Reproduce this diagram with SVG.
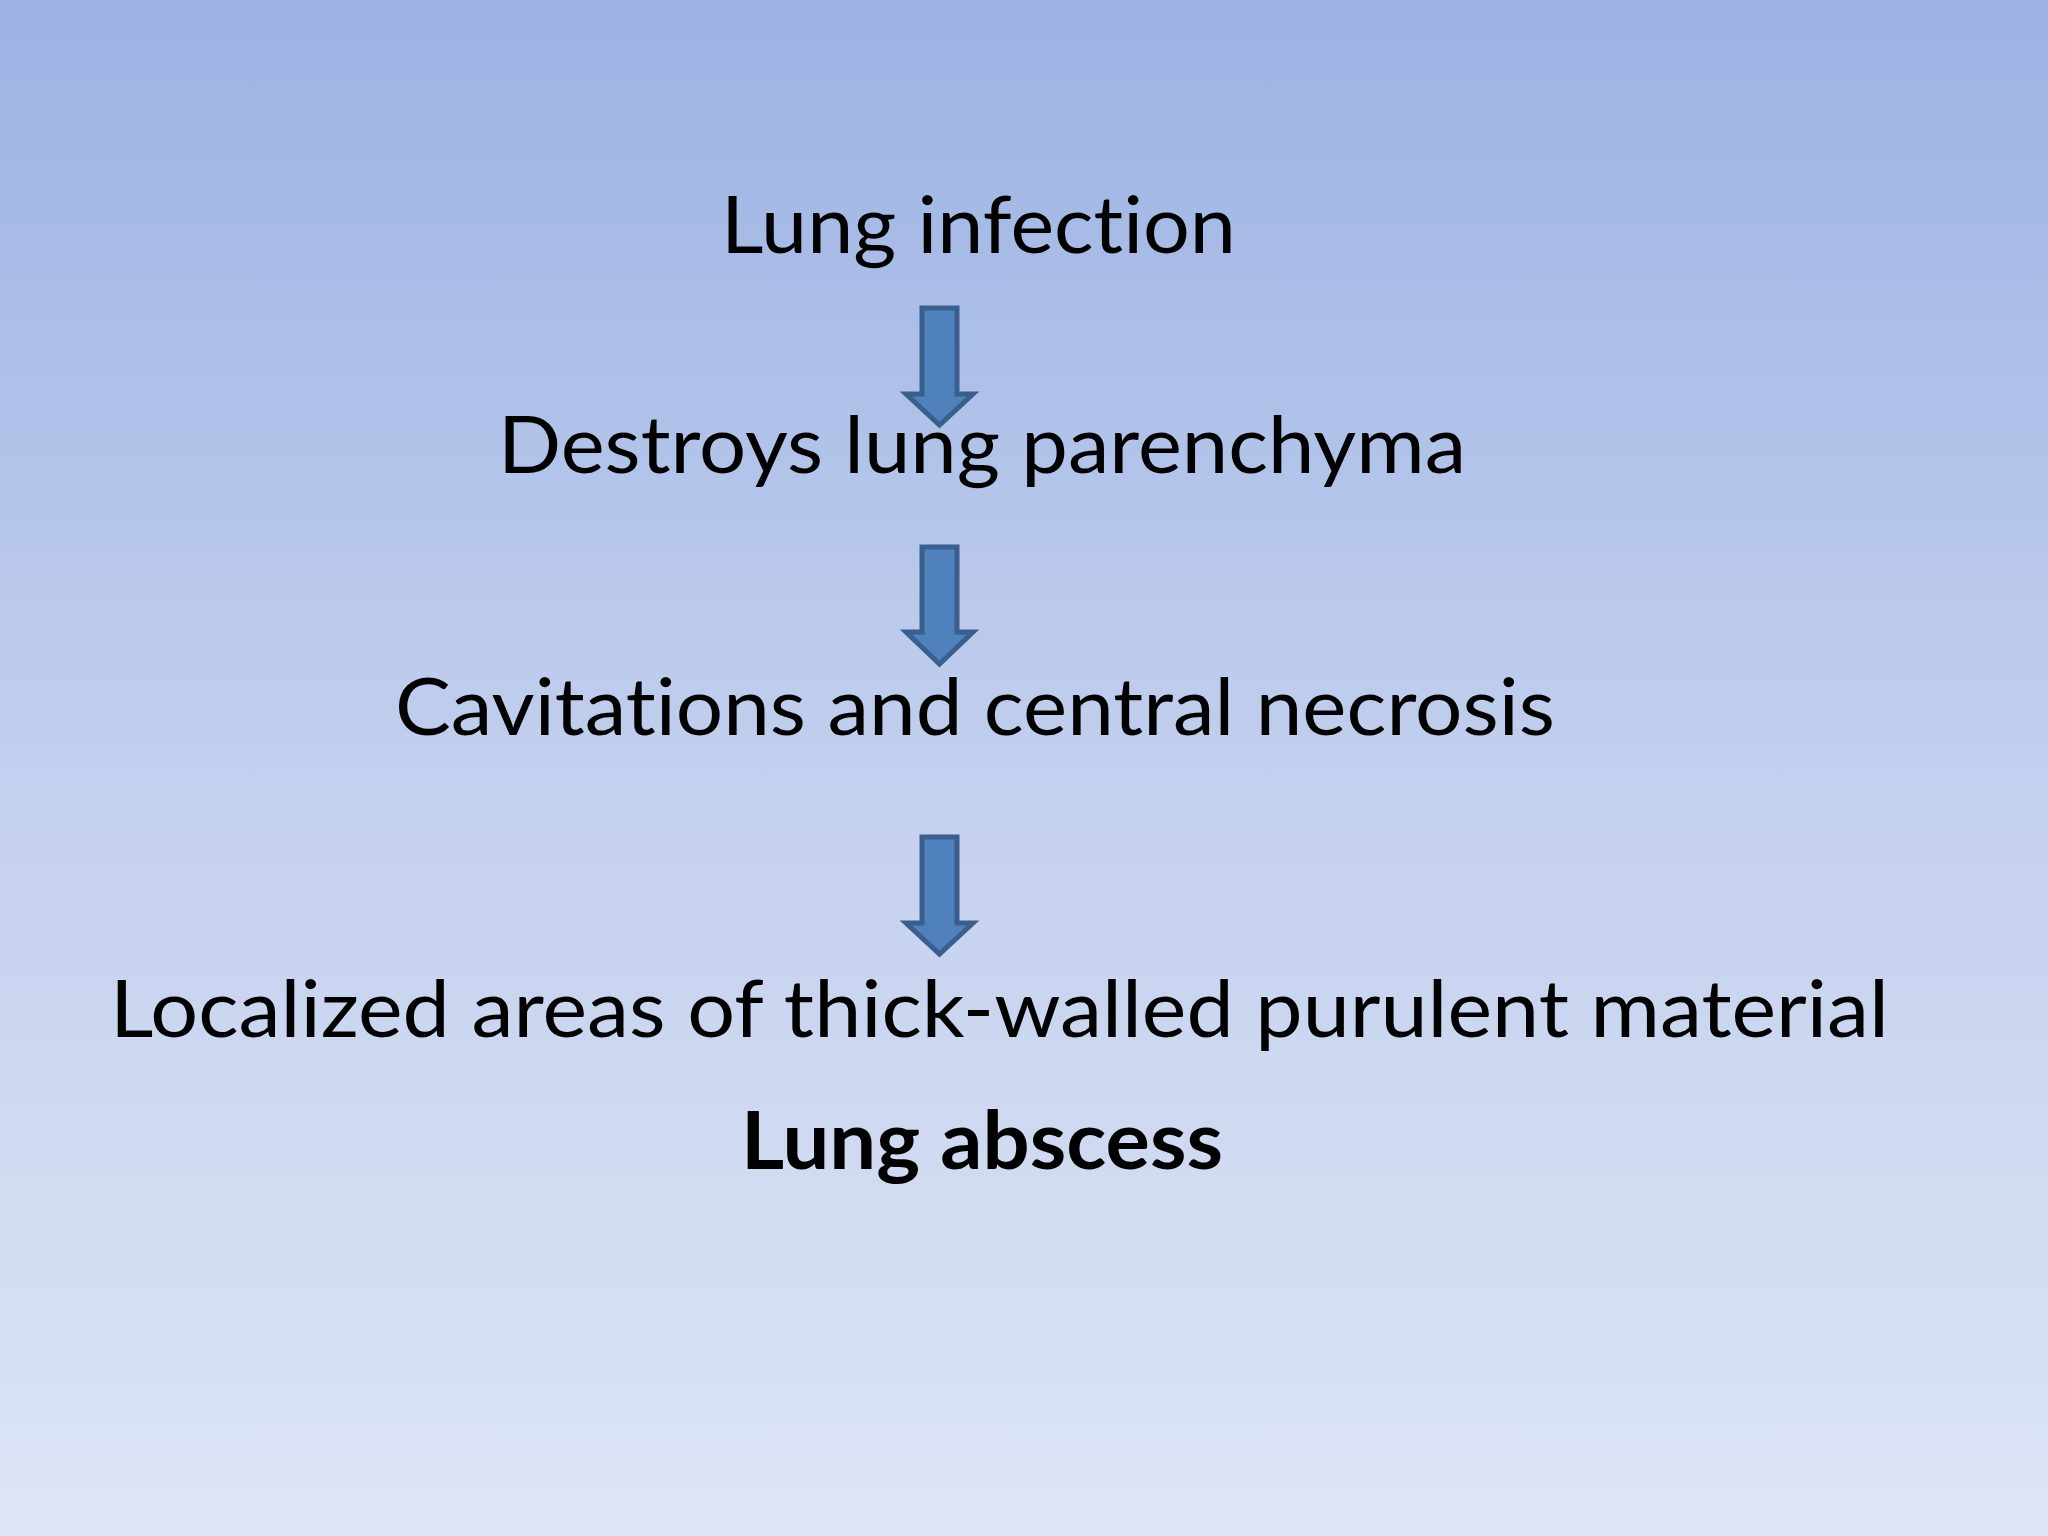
<svg xmlns="http://www.w3.org/2000/svg" width="2048" height="1536" viewBox="0 0 2048 1536">
<defs>
<linearGradient id="bg" x1="0" y1="0" x2="0" y2="1">
<stop offset="0" stop-color="#9bb2e3"/>
<stop offset="0.5" stop-color="#c2cfee"/>
<stop offset="1" stop-color="#dde5f5"/>
</linearGradient>
<style>
.t{font-family:Lato,"Open Sans","Liberation Sans",sans-serif;font-size:80px;fill:#000;font-variant-ligatures:none;font-feature-settings:"liga" 0,"clig" 0;}
.b{font-weight:bold;}
.arr{fill:#4f81bd;stroke:#3a5f8c;stroke-width:5;stroke-linejoin:miter;}
</style>
</defs>
<rect x="0" y="0" width="2048" height="1536" fill="url(#bg)"/>
<g id="n1"><text class="t" x="721" y="253" textLength="515" lengthAdjust="spacingAndGlyphs">Lung infection</text></g>
<g id="n2"><text class="t" x="498" y="473" textLength="968" lengthAdjust="spacingAndGlyphs">Destroys lung parenchyma</text></g>
<g id="n3"><text class="t" x="395" y="735" textLength="1160" lengthAdjust="spacingAndGlyphs">Cavitations and central necrosis</text></g>
<g id="n4"><text class="t" x="110" y="1037" textLength="1779" lengthAdjust="spacingAndGlyphs">Localized areas of thick-walled purulent material</text></g>
<g id="n5"><text class="t b" x="741" y="1169" textLength="482" lengthAdjust="spacingAndGlyphs">Lung abscess</text></g>
<g id="connectors">
<path class="arr" d="M922,308 H957 V394 H973 L939.5,425 L906,394 H922 Z"/>
<path class="arr" d="M922,547 H957 V632 H973 L939.5,664 L906,632 H922 Z"/>
<path class="arr" d="M922,837 H957 V923 H973 L939.5,954 L906,923 H922 Z"/>
</g>
</svg>
